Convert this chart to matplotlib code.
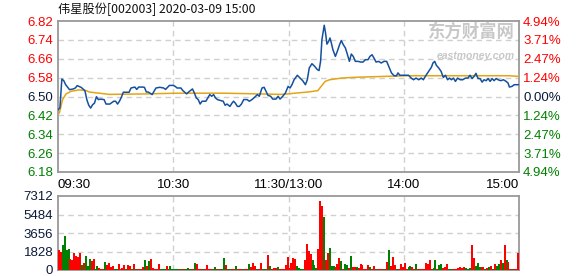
import matplotlib
matplotlib.use("Agg")
import matplotlib.pyplot as plt
import numpy as np

plt.rcParams['font.family'] = ['Liberation Sans', 'DejaVu Sans']

# --- data --------------------------------------------------------------
title = "伟星股份[002003] 2020-03-09 15:00"
pre_close = 6.50

# minute index (0 = 09:30, 120 = 11:30/13:00, 240 = 15:00) and price
price_t = [0, 1, 2, 3, 4, 6, 8, 9, 10, 12, 13, 14, 15, 16, 17, 18, 19, 20, 21, 22,
           24, 25, 27, 29, 30, 31, 32, 33, 34, 37, 38, 40, 41, 42, 44, 45, 46, 47, 49, 51,
           53, 55, 56, 58, 60, 61, 62, 64, 65, 67, 68, 70, 71, 72, 73, 74, 75, 77, 78, 79,
           80, 81, 82, 83, 85, 86, 87, 88, 89.5, 90.6, 91.4, 92.3, 93.4, 94.4, 95.5, 96.7, 98.4, 99.6, 101, 102.4,
           103.8, 104.8, 106.2, 107.3, 108.3, 109.3, 110.7, 111.8, 113.5, 114.6, 115.6, 117, 118.4, 119.8,
           120.8, 121.8, 122.9, 124.6, 126.0, 127.4, 128.8, 129.8, 130.8, 132.2, 133.6, 135.0, 135.9,
           136.7, 137.4, 138.1, 138.6, 139.3, 140.0, 140.9, 141.6, 142.3, 143.1, 144.4, 145.4, 146.6,
           147.5, 148.5, 149.6, 150.6, 151.7, 152.7, 153.7, 154.8, 156.2, 157.6, 158.8, 160.0, 161.4,
           162.4, 163.5, 164.5, 165.6, 166.9, 168.3, 169.7, 171.1, 172.5, 173.6, 175.0, 176.2, 177.0,
           178.0, 179.6, 182.5, 183.9, 185.1, 186.4, 187.8, 189.1, 190.2, 191.6, 193.0, 194.4, 195.2,
           196.1, 197.0, 198.2, 199.4, 200.6, 201.7, 202.8, 203.8, 204.8, 205.9, 206.9, 208.0, 209.4,
           210.7, 212.1, 213.4, 214.5, 215.6, 216.6, 217.6, 218.7, 219.7, 220.8, 221.8, 222.9, 223.9,
           225.0, 226.0, 227.0, 228.1, 229.1, 230.5, 231.9, 233.3, 234.3, 235.0, 236.4, 237.5, 240]
price = [6.444, 6.451, 6.574, 6.567, 6.550, 6.529, 6.532, 6.536, 6.546, 6.539, 6.532, 6.525, 6.487, 6.463, 6.451, 6.465, 6.472, 6.499, 6.487, 6.489,
         6.487, 6.468, 6.468, 6.480, 6.480, 6.468, 6.480, 6.497, 6.518, 6.518, 6.536, 6.540, 6.530, 6.540, 6.540, 6.539, 6.519, 6.519, 6.508, 6.536,
         6.539, 6.536, 6.530, 6.547, 6.547, 6.543, 6.536, 6.536, 6.525, 6.511, 6.519, 6.532, 6.515, 6.494, 6.487, 6.468, 6.480, 6.480, 6.494, 6.508,
         6.501, 6.508, 6.494, 6.487, 6.482, 6.480, 6.463, 6.468, 6.458, 6.472, 6.480, 6.472, 6.458, 6.458, 6.468, 6.487, 6.487, 6.480, 6.487, 6.497,
         6.508, 6.501, 6.536, 6.539, 6.522, 6.505, 6.501, 6.489, 6.489, 6.501, 6.489, 6.501, 6.515, 6.543,
         6.536, 6.550, 6.571, 6.590, 6.578, 6.567, 6.550, 6.571, 6.621, 6.639, 6.628, 6.614, 6.610,
         6.649, 6.741, 6.776, 6.802, 6.769, 6.722, 6.734, 6.748, 6.727, 6.699, 6.670, 6.691, 6.720,
         6.737, 6.720, 6.706, 6.680, 6.649, 6.680, 6.670, 6.649, 6.649, 6.646, 6.646, 6.656, 6.656,
         6.670, 6.677, 6.663, 6.646, 6.649, 6.642, 6.649, 6.649, 6.621, 6.600, 6.588, 6.588, 6.600,
         6.590, 6.590, 6.590, 6.578, 6.571, 6.578, 6.571, 6.578, 6.571, 6.590, 6.607, 6.624, 6.642,
         6.649, 6.632, 6.621, 6.607, 6.581, 6.590, 6.571, 6.578, 6.571, 6.578, 6.564, 6.578, 6.571,
         6.571, 6.578, 6.578, 6.590, 6.576, 6.585, 6.598, 6.576, 6.576, 6.561, 6.571, 6.567, 6.576,
         6.564, 6.576, 6.567, 6.576, 6.571, 6.567, 6.571, 6.564, 6.557, 6.540, 6.543, 6.550, 6.550]

avg_t = [0.7, 2.4, 4.2, 6.8, 11.1, 14.6, 16.3, 21.5, 26.7, 45.8, 61.4, 87, 116, 119.7, 123.2,
         130.1, 135.3, 137.0, 139.1, 141.4, 147.5, 153.6, 164.8, 182.2, 235, 240]
avg_price = [6.430, 6.487, 6.511, 6.522, 6.528, 6.525, 6.519, 6.514, 6.509, 6.511, 6.514, 6.514, 6.509,
             6.511, 6.514, 6.519, 6.525, 6.543, 6.564, 6.571, 6.578, 6.581, 6.584, 6.588, 6.588, 6.585]

# volume per minute, 1 = up (red), 0 = down (green)
volume = [1994, 1795, 2493, 3324, 1994, 2094, 1097, 1030, 1695, 1396, 1296, 1695, 499, 698, 1396, 399, 1097, 897, 1097, 100,
          399, 200, 100, 100, 798, 499, 698, 299, 399, 100, 100, 598, 100, 200, 499, 100, 499, 399, 100, 598,
          100, 100, 100, 100, 299, 997, 399, 897, 1097, 200, 100, 100, 598, 100, 100, 100, 399, 100, 399, 100,
          100, 100, 100, 100, 100, 100, 100, 200, 100, 100, 100, 698, 598, 100, 100, 100, 100, 499, 100, 100,
          100, 299, 100, 100, 100, 100, 1197, 499, 100, 100, 100, 100, 399, 100, 100, 100, 100, 100, 100, 598,
          299, 698, 399, 100, 100, 698, 100, 100, 100, 1496, 399, 100, 200, 200, 299, 100, 100, 100, 499, 1296,
          200, 698, 1197, 1097, 399, 200, 100, 100, 997, 2593, 1895, 1596, 997, 499, 200, 2094, 6781, 6282, 5285, 997,
          1695, 2194, 399, 399, 299, 598, 1197, 897, 100, 598, 499, 200, 1396, 299, 299, 299, 200, 598, 499, 100,
          100, 499, 299, 100, 399, 100, 100, 100, 100, 100, 100, 798, 1994, 399, 1296, 499, 100, 100, 598, 299,
          698, 100, 299, 399, 299, 100, 598, 100, 100, 100, 100, 698, 598, 997, 100, 200, 997, 100, 499, 598,
          200, 299, 598, 100, 100, 100, 100, 100, 200, 299, 200, 299, 200, 100, 200, 2493, 1197, 399, 698, 299,
          299, 299, 100, 200, 299, 399, 100, 598, 399, 598, 997, 698, 2493, 997, 798, 100, 100, 100, 100, 1695]
vol_up = [1, 1, 0, 0, 0, 0, 1, 1, 1, 1, 1, 1, 0, 1, 0, 0, 0, 1, 1, 0,
          0, 1, 1, 1, 0, 1, 1, 1, 1, 0, 0, 1, 1, 1, 1, 0, 1, 1, 0, 1,
          0, 1, 1, 0, 1, 0, 1, 0, 1, 1, 1, 1, 1, 0, 0, 0, 1, 1, 0, 0,
          0, 0, 0, 1, 0, 1, 0, 0, 1, 0, 1, 0, 1, 1, 1, 0, 1, 1, 1, 1,
          0, 0, 1, 0, 1, 0, 0, 1, 0, 0, 1, 1, 0, 1, 1, 1, 0, 1, 1, 0,
          1, 1, 1, 0, 1, 1, 0, 0, 0, 1, 0, 1, 1, 1, 0, 1, 1, 1, 1, 1,
          1, 1, 1, 1, 0, 0, 0, 0, 1, 1, 1, 1, 0, 0, 0, 1, 1, 1, 0, 1,
          1, 0, 0, 0, 1, 1, 1, 0, 1, 0, 0, 1, 0, 1, 1, 0, 1, 1, 1, 1,
          1, 1, 0, 1, 1, 0, 1, 1, 1, 0, 1, 1, 0, 1, 1, 1, 0, 1, 1, 1,
          1, 1, 0, 0, 1, 1, 0, 1, 1, 1, 1, 1, 1, 1, 1, 0, 0, 1, 0, 0,
          1, 1, 1, 0, 0, 1, 1, 1, 1, 1, 1, 1, 0, 0, 0, 1, 1, 0, 0, 0,
          1, 1, 0, 1, 0, 1, 0, 1, 0, 0, 1, 0, 1, 0, 1, 1, 0, 1, 1, 1]

price_ticks = [6.18, 6.26, 6.34, 6.42, 6.50, 6.58, 6.66, 6.74, 6.82]
pct_labels = ["4.94%", "3.71%", "2.47%", "1.24%", "0.00%", "1.24%", "2.47%", "3.71%", "4.94%"]
vol_ticks = [0, 1828, 3656, 5484, 7312]
time_ticks = [0, 60, 120, 180, 240]
time_labels = ["09:30", "10:30", "11:30/13:00", "14:00", "15:00"]

# --- styling ------------------------------------------------------------
RED = "#ff0000"
GREEN = "#008000"
DARK = "#0b1a3a"
FRAME = "#999999"
GRID = "#d0d0d0"


def tick_color(v):
    if v > pre_close + 1e-9:
        return RED
    if v < pre_close - 1e-9:
        return GREEN
    return DARK


fig = plt.figure(figsize=(5.78, 2.76), dpi=100)
ax = fig.add_axes([58 / 578, 1 - 172 / 276, 461 / 578, 151 / 276])
axv = fig.add_axes([58 / 578, 1 - 270 / 276, 461 / 578, 74 / 276])

for a in (ax, axv):
    a.set_xlim(0, 240)
    for s in a.spines.values():
        s.set_color(FRAME)
        s.set_linewidth(1.3)
    a.tick_params(length=0, labelsize=9.5)
    for t in time_ticks[1:-1]:
        a.axvline(t, color=GRID, lw=1, ls=(0, (4, 3)), zorder=0)

# price panel
ax.set_ylim(6.18, 6.82)
ax.set_yticks(price_ticks)
ax.set_yticklabels([f"{v:.2f}" for v in price_ticks])
for lab, v in zip(ax.get_yticklabels(), price_ticks):
    lab.set_color(tick_color(v))
for v in price_ticks[1:-1]:
    ax.axhline(v, color=GRID, lw=1, ls=(0, (4, 3)), zorder=0)
ax.set_xticks([])

ax.plot(avg_t, avg_price, color="#e3a514", lw=1.1, zorder=3)
ax.plot(price_t, price, color="#14509e", lw=1.1, zorder=4)

axr = ax.twinx()
axr.set_ylim(6.18, 6.82)
axr.set_yticks(price_ticks)
axr.set_yticklabels(pct_labels)
axr.tick_params(length=0, labelsize=9.5, pad=3)
for lab, v in zip(axr.get_yticklabels(), price_ticks):
    lab.set_color(tick_color(v))
for s in axr.spines.values():
    s.set_visible(False)

# time labels under the price panel
for t, lab in zip(time_ticks, time_labels):
    ha = "left" if t == 0 else ("right" if t == 240 else "center")
    ax.text(t, -0.045, lab, transform=ax.get_xaxis_transform(), ha=ha, va="top",
            fontsize=9.5, color="black")

# watermark
ax.text(0.99, 0.985, "东方财富网", transform=ax.transAxes, ha="right", va="top",
        fontsize=12.5, color="#c8c8c8", fontweight="bold",
        family=["Noto Sans CJK SC", "DejaVu Sans"], zorder=1)
ax.text(0.99, 0.80, "eastmoney.com", transform=ax.transAxes, ha="right", va="top",
        fontsize=7.5, color="#c8c8c8", fontweight="bold", style="italic", zorder=1)

# volume panel
vol_t = np.arange(1, len(volume) + 1) - 0.5
colors = [RED if u else GREEN for u in vol_up]
axv.vlines(vol_t, 0, volume, colors=colors, lw=1.2, antialiased=False, zorder=3)
axv.set_ylim(0, 7312)
axv.set_yticks(vol_ticks)
axv.set_yticklabels([str(v) for v in vol_ticks], color=DARK)
for v in vol_ticks[1:-1]:
    axv.axhline(v, color=GRID, lw=1, ls=(0, (4, 3)), zorder=0)
axv.set_xticks([])

fig.text(58 / 578, 1 - 2 / 276, title, ha="left", va="top", fontsize=8.8,
         color="#111111", family=["Noto Sans CJK SC", "DejaVu Sans"])

fig.savefig("out.png", dpi=100)
